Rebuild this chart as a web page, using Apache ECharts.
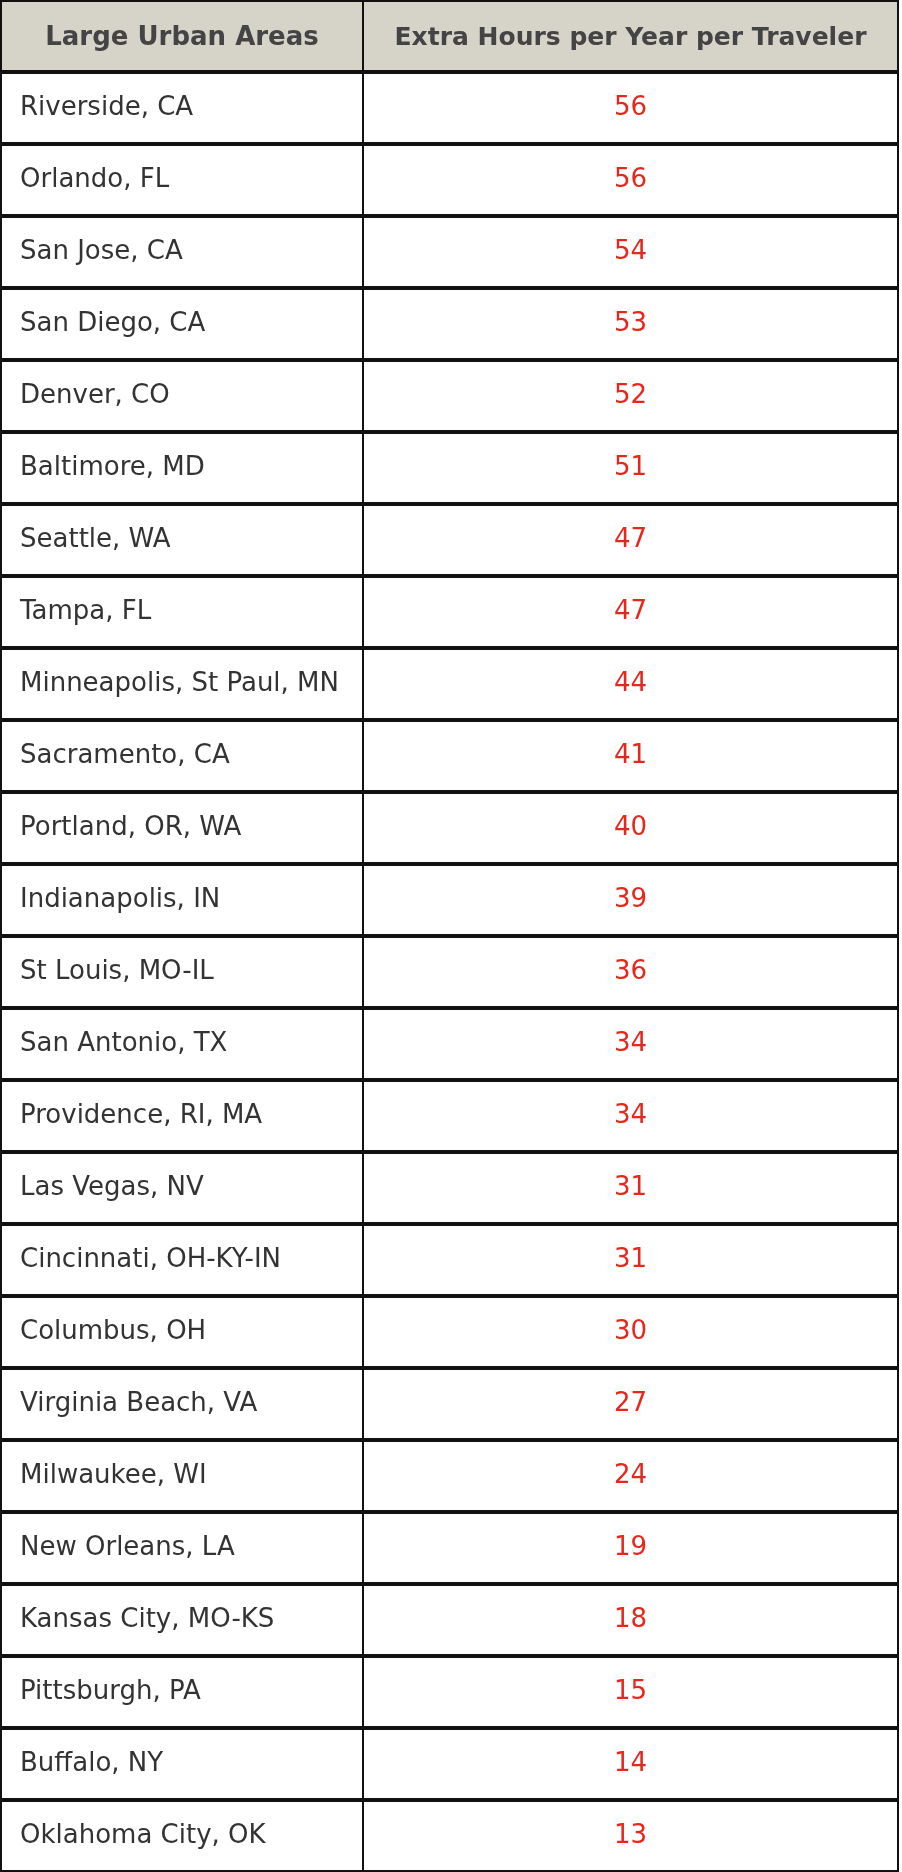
<!DOCTYPE html>
<html>
<head>
<meta charset="utf-8">
<script src="https://cdn.jsdelivr.net/npm/echarts@6/dist/echarts.min.js"></script>
<style>
  html, body { margin: 0; padding: 0; background: #fff; }
  #chart { width: 902px; height: 1872px; }
</style>
</head>
<body>
<div id="chart"></div>
<script>
var headers = ['Large Urban Areas', 'Extra Hours per Year per Traveler'];
var areas = ['Riverside, CA', 'Orlando, FL', 'San Jose, CA', 'San Diego, CA', 'Denver, CO',
    'Baltimore, MD', 'Seattle, WA', 'Tampa, FL', 'Minneapolis, St Paul, MN', 'Sacramento, CA',
    'Portland, OR, WA', 'Indianapolis, IN', 'St Louis, MO-IL', 'San Antonio, TX', 'Providence, RI, MA',
    'Las Vegas, NV', 'Cincinnati, OH-KY-IN', 'Columbus, OH', 'Virginia Beach, VA', 'Milwaukee, WI',
    'New Orleans, LA', 'Kansas City, MO-KS', 'Pittsburgh, PA', 'Buffalo, NY', 'Oklahoma City, OK'];
var hours = [56, 56, 54, 53, 52, 51, 47, 47, 44, 41, 40, 39, 36, 34, 34, 31, 31, 30, 27, 24, 19, 18, 15, 14, 13];

var rows = [headers[0]].concat(areas);
var split = 363;
var font = '"DejaVu Sans", Verdana, sans-serif';

var chart = echarts.init(document.getElementById('chart'));

chart.setOption({
    animation: false,
    grid: { left: 0, right: 0, top: 0, bottom: 0 },
    xAxis: { type: 'value', min: 0, max: 902, show: false },
    yAxis: { type: 'category', data: rows, inverse: true, show: false },
    series: [{
        type: 'custom',
        data: rows.map(function (r, i) { return [0, i]; }),
        renderItem: function (params, api) {
            var i = api.value(1);
            var c = api.coord([0, i]);
            var h = api.size([0, 1])[1];
            var top = c[1] - h / 2;
            var x0 = api.coord([1, i])[0];
            var xs = api.coord([split, i])[0];
            var x1 = api.coord([898, i])[0];
            var head = i === 0;
            var children = [{
                type: 'rect',
                shape: { x: x0, y: top + 1, width: x1 - x0, height: h - 2 },
                style: { fill: head ? '#d6d3c9' : '#fff', stroke: '#111', lineWidth: 2 }
            }, {
                type: 'line',
                shape: { x1: xs, y1: top, x2: xs, y2: top + h },
                style: { stroke: '#111', lineWidth: 2 }
            }, {
                type: 'text',
                style: {
                    x: head ? (x0 + xs) / 2 : x0 + 19, y: c[1] + (head ? 2 : 0),
                    text: rows[i],
                    fill: head ? '#444' : '#333',
                    font: (head ? 'bold ' : '') + '26px ' + font,
                    align: head ? 'center' : 'left', verticalAlign: 'middle'
                }
            }, {
                type: 'text',
                style: {
                    x: (xs + x1) / 2, y: c[1] + (head ? 2 : 0),
                    text: head ? headers[1] : String(hours[i - 1]),
                    fill: head ? '#444' : '#e8261c',
                    font: (head ? 'bold ' : '') + (head ? '25px ' : '26px ') + font,
                    align: 'center', verticalAlign: 'middle'
                }
            }];
            return { type: 'group', children: children };
        }
    }]
});
</script>
</body>
</html>
